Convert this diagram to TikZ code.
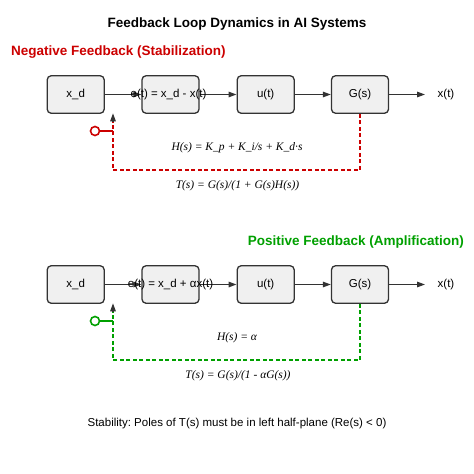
\documentclass[tikz,border=0pt]{standalone}
\usepackage{fontspec}
\setmainfont{Liberation Sans}
\newfontfamily\eqfont{Liberation Serif}
\usetikzlibrary{arrows.meta}
\frenchspacing

\definecolor{negred}{RGB}{204,0,0}
\definecolor{posgreen}{RGB}{0,160,0}
\definecolor{boxfill}{RGB}{240,240,240}
\definecolor{boxline}{RGB}{51,51,51}

\tikzset{every picture/.style={line width=0.75pt}}
\tikzset{
  blockbox/.style={draw=boxline, fill=boxfill, rounded corners=4pt, line width=1.3pt, minimum width=57pt, minimum height=37.5pt, inner sep=0pt},
  flow/.style={draw=boxline, line width=1.3pt, -{Triangle[length=8pt,width=5.5pt]}},
  txt/.style={font=\fontsize{11.5}{13}\selectfont, inner sep=0.75pt},
  eqtxt/.style={font=\fontsize{11.5}{13}\selectfont\eqfont\itshape, inner sep=0.75pt},
  headline/.style={font=\fontsize{13.5}{16}\selectfont\bfseries, inner sep=0.75pt},
  fbline/.style={dash pattern=on 4pt off 2.5pt, line width=1.4pt},
  tapcircle/.style={circle, draw, line width=1.6pt, minimum size=9pt, inner sep=0pt, fill=white},
}

\begin{document}
\begin{tikzpicture}[x=1pt,y=1pt,yscale=-1,xscale=1]
\useasboundingbox (0,0) rectangle (474,474);

% Title
\node[headline] (title) at (237,24) {Feedback Loop Dynamics in AI Systems};

%Negative feedback loop
\node[headline, text=negred, anchor=west] (negtitle) at (10,52) {Negative Feedback (Stabilization)};

\node[blockbox, txt] (xd1) at (75.7,94.5) {x\_d};
\node[blockbox] (err1) at (170.5,94.5) {};
\node[blockbox, txt] (u1) at (265.7,94.5) {u(t)};
\node[blockbox, txt] (g1) at (360,94.5) {G(s)};
\coordinate (out1) at (425,94.5);

\draw[flow] (xd1) -- (err1);
\draw[flow] (err1) -- (u1);
\draw[flow] (u1) -- (g1);
\draw[flow] (g1) -- (out1);

% Text Node
\node[txt] (errtxt1) at (168.5,94.5) {e(t) = x\_d - x(t)};
% Text Node
\node[txt] (xt1) at (446,94.5) {x(t)};

%Feedback path
\coordinate (tip1) at (113,113.3);
\coordinate (foot1) at (113,122);
\coordinate (join1) at (113,131);
\coordinate (turn1) at (113,170);
\draw[fbline, negred] (g1.south) |- (turn1) -- (foot1);
\draw[flow] (foot1) -- (tip1);
\node[tapcircle, draw=negred] (tap1) at (95,131) {};
\draw[negred, line width=1.6pt] (tap1) -- (join1);

% Text Node
\node[eqtxt] (hs1) at (237,148) {H(s) = K\_p + K\_i/s + K\_d·s};
% Text Node
\node[eqtxt] (ts1) at (237.5,186) {T(s) = G(s)/(1 + G(s)H(s))};

%Positive feedback loop
\node[headline, text=posgreen, anchor=east] (postitle) at (465,242) {Positive Feedback (Amplification)};

\node[blockbox, txt] (xd2) at (75.7,284.5) {x\_d};
\node[blockbox] (err2) at (170.5,284.5) {};
\node[blockbox, txt] (u2) at (265.7,284.5) {u(t)};
\node[blockbox, txt] (g2) at (360,284.5) {G(s)};
\coordinate (out2) at (425,284.5);

\draw[flow] (xd2) -- (err2);
\draw[flow] (err2) -- (u2);
\draw[flow] (u2) -- (g2);
\draw[flow] (g2) -- (out2);

% Text Node
\node[txt] (errtxt2) at (170.5,284.5) {e(t) = x\_d + αx(t)};
% Text Node
\node[txt] (xt2) at (446,284.5) {x(t)};

%Feedback path
\coordinate (tip2) at (113,303.3);
\coordinate (foot2) at (113,312);
\coordinate (join2) at (113,321);
\coordinate (turn2) at (113,360);
\draw[fbline, posgreen] (g2.south) |- (turn2) -- (foot2);
\draw[flow] (foot2) -- (tip2);
\node[tapcircle, draw=posgreen] (tap2) at (95,321) {};
\draw[posgreen, line width=1.6pt] (tap2) -- (join2);

% Text Node
\node[eqtxt] (hs2) at (237,337.5) {H(s) = α};
% Text Node
\node[eqtxt] (ts2) at (238,376) {T(s) = G(s)/(1 - αG(s))};

% Text Node
\node[txt] (stab) at (237,423.5) {Stability: Poles of T(s) must be in left half-plane (Re(s) < 0)};

\end{tikzpicture}
\end{document}
